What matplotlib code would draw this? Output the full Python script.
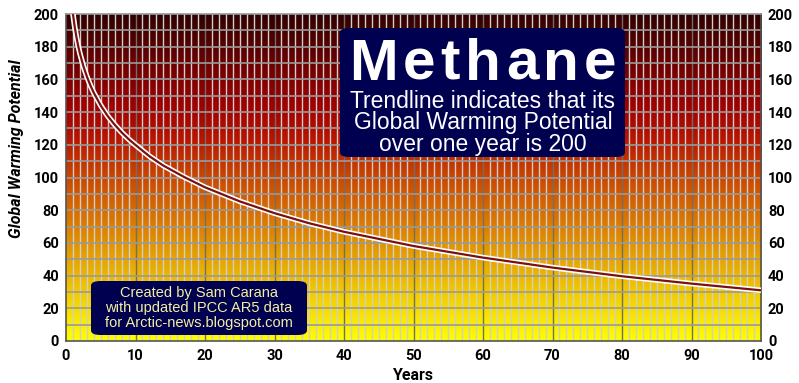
import numpy as np
import matplotlib
matplotlib.use("Agg")
import matplotlib.pyplot as plt
from matplotlib.colors import LinearSegmentedColormap
from matplotlib.patches import FancyBboxPatch
import matplotlib.patheffects as pe

# trendline values
years = [1, 1.25, 1.5, 1.75, 2, 2.5, 3, 3.5, 4, 5, 6, 7, 8, 9, 10, 12, 14, 17, 20, 25, 30, 35, 40,
         50, 60, 70, 80, 90, 100]
gwp = [200, 192.2, 185.9, 180.5, 175.9, 168.1, 161.8, 156.4, 151.8, 144.0, 137.6, 132.3, 127.6, 123.5,
       119.9, 113.0, 107.3, 100.3, 94.0, 85.4, 78.2, 72.0, 66.8, 58.1, 51.0, 44.9, 39.6, 35.1, 31.0]

xticks = list(range(0, 101, 10))
yticks = list(range(0, 201, 20))

W, H = 799, 383
fig = plt.figure(figsize=(W / 100, H / 100), dpi=100)
ax = fig.add_axes([66 / W, 1 - 341 / H, 695 / W, 327 / H])

# background gradient yellow -> dark red
cmap = LinearSegmentedColormap.from_list("bg", [
    (0.0, "#ffff00"), (0.12, "#f4d400"), (0.25, "#e6a400"), (0.4, "#d86c00"),
    (0.52, "#c84000"), (0.62, "#b81400"), (0.72, "#a00000"), (0.86, "#6a0000"),
    (1.0, "#300000")])
grad = np.linspace(0, 1, 256).reshape(-1, 1)
ax.imshow(grad, cmap=cmap, origin="lower", extent=[0, 100, 0, 200], aspect="auto", zorder=0)

# grid
for x in range(1, 100):
    if x % 10:
        ax.axvline(x, color="#cfcfcf", lw=1, zorder=1)
for x in range(10, 100, 10):
    ax.axvline(x, color="#6e6e6e", lw=1, zorder=1)
for y in range(10, 200, 10):
    ax.axhline(y, color="#9a9a9a", lw=1.2, zorder=1)

ax.plot(years, gwp, color="#7a1010", lw=1.6, zorder=3, solid_capstyle="butt", solid_joinstyle="round",
        path_effects=[pe.Stroke(linewidth=4, foreground="white"), pe.Normal()])

ax.set_xlim(0, 100)
ax.set_ylim(0, 200)
ax.set_xticks(xticks)
ax.set_yticks(yticks)
ax.tick_params(length=0, labelsize=10.5, pad=6)
ax.tick_params(axis="y", right=True, labelright=True, pad=5)
for lab in ax.get_xticklabels() + ax.get_yticklabels():
    lab.set_fontweight("bold")
    lab.set_family("Roboto")
for s in ax.spines.values():
    s.set_color("#555555")
    s.set_linewidth(1.2)
ax.spines["top"].set_color("#999999")
ax.set_xlabel("Years", fontsize=11.5, fontweight="bold", family="Roboto", labelpad=3)
ax.set_ylabel("Global Warming Potential", fontsize=11.5, fontweight="bold", style="italic",
              family="Roboto")
ax.yaxis.set_label_coords((24 - 66) / 695, (341 - 149) / 327)

def px(x, y):
    return x / W, 1 - y / H

# Methane box
x0, y0 = px(340, 157)
x1, y1 = px(625, 28)
fig.patches.append(FancyBboxPatch((x0, y0), x1 - x0, y1 - y0, boxstyle="round,pad=0,rounding_size=0.012",
                                  transform=fig.transFigure, fc="#000050", ec="none", zorder=5))

# spaced-out title, letter by letter
renderer = fig.canvas.get_renderer()
title = "Methane"
gap = 5.0
chars = []
total = 0
for c in title:
    t = fig.text(0, 0, c, fontsize=42, fontweight="bold", color="white", ha="left", va="baseline",
                 family="Liberation Sans", zorder=6)
    w = t.get_window_extent(renderer).width
    chars.append((t, w))
    total += w
total += gap * (len(title) - 1)
xpos = 483 - total / 2
for t, w in chars:
    t.set_position(px(xpos, 80))
    xpos += w + gap

for i, line in enumerate(["Trendline indicates that its", "Global Warming Potential", "over one year is 200"]):
    fig.text(*px(483, 101 + i * 21.5), line, fontsize=16.5, color="white", ha="center", va="center",
             family="Liberation Sans", zorder=6)

# credit box
x0, y0 = px(91, 335)
x1, y1 = px(307, 281)
fig.patches.append(FancyBboxPatch((x0, y0), x1 - x0, y1 - y0, boxstyle="round,pad=0,rounding_size=0.012",
                                  transform=fig.transFigure, fc="#000050", ec="none", zorder=5))
for i, line in enumerate(["Created by Sam Carana", "with updated IPCC AR5 data", "for Arctic-news.blogspot.com"]):
    fig.text(*px(199, 293 + i * 15), line, fontsize=10.5, color="#f4f0a0", ha="center", va="center",
             family="Liberation Sans", zorder=6)

fig.savefig("out.png", dpi=100)
